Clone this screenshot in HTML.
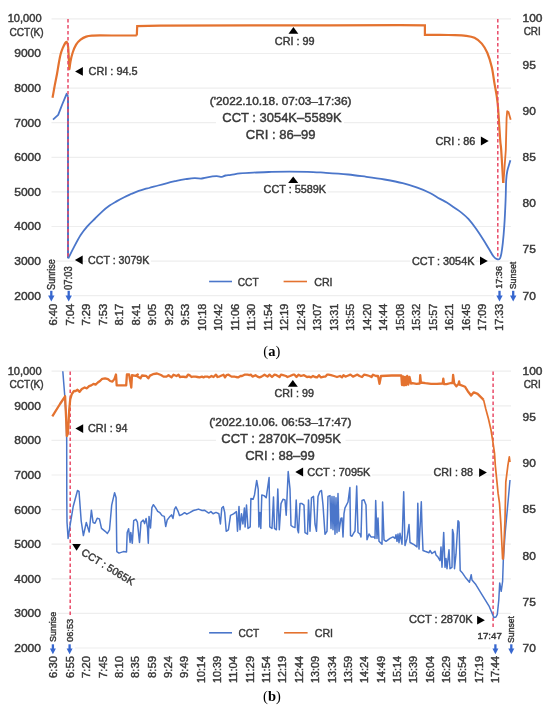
<!DOCTYPE html><html><head><meta charset="utf-8"><style>html,body{margin:0;padding:0;background:#fff;}svg{display:block;}</style></head><body>
<svg width="550" height="712" viewBox="0 0 550 712">
<style>text{stroke:#383838;stroke-width:0.42px;}</style>
<rect width="550" height="712" fill="#fff"/>
<line x1="51.5" x2="511" y1="18.9" y2="18.9" stroke="#EEEEEE" stroke-width="1.2"/>
<line x1="51.5" x2="511" y1="53.5" y2="53.5" stroke="#EEEEEE" stroke-width="1.2"/>
<line x1="51.5" x2="511" y1="88.1" y2="88.1" stroke="#EEEEEE" stroke-width="1.2"/>
<line x1="51.5" x2="511" y1="122.7" y2="122.7" stroke="#EEEEEE" stroke-width="1.2"/>
<line x1="51.5" x2="511" y1="157.3" y2="157.3" stroke="#EEEEEE" stroke-width="1.2"/>
<line x1="51.5" x2="511" y1="191.9" y2="191.9" stroke="#EEEEEE" stroke-width="1.2"/>
<line x1="51.5" x2="511" y1="226.5" y2="226.5" stroke="#EEEEEE" stroke-width="1.2"/>
<line x1="51.5" x2="511" y1="261.1" y2="261.1" stroke="#EEEEEE" stroke-width="1.2"/>
<line x1="51.5" x2="511" y1="295.7" y2="295.7" stroke="#EEEEEE" stroke-width="1.2"/>
<text x="41.6" y="22.3" font-size="10.2" text-anchor="end" fill="#383838" font-weight="normal" font-family='"Liberation Sans", Arial, sans-serif' textLength="33.9" lengthAdjust="spacingAndGlyphs">10,000</text>
<text x="41" y="57.4" font-size="11" text-anchor="end" fill="#383838" font-weight="normal" font-family='"Liberation Sans", Arial, sans-serif' textLength="26.8" lengthAdjust="spacingAndGlyphs">9000</text>
<text x="41" y="92" font-size="11" text-anchor="end" fill="#383838" font-weight="normal" font-family='"Liberation Sans", Arial, sans-serif' textLength="26.8" lengthAdjust="spacingAndGlyphs">8000</text>
<text x="41" y="126.6" font-size="11" text-anchor="end" fill="#383838" font-weight="normal" font-family='"Liberation Sans", Arial, sans-serif' textLength="26.8" lengthAdjust="spacingAndGlyphs">7000</text>
<text x="41" y="161.2" font-size="11" text-anchor="end" fill="#383838" font-weight="normal" font-family='"Liberation Sans", Arial, sans-serif' textLength="26.8" lengthAdjust="spacingAndGlyphs">6000</text>
<text x="41" y="195.8" font-size="11" text-anchor="end" fill="#383838" font-weight="normal" font-family='"Liberation Sans", Arial, sans-serif' textLength="26.8" lengthAdjust="spacingAndGlyphs">5000</text>
<text x="41" y="230.4" font-size="11" text-anchor="end" fill="#383838" font-weight="normal" font-family='"Liberation Sans", Arial, sans-serif' textLength="26.8" lengthAdjust="spacingAndGlyphs">4000</text>
<text x="41" y="265" font-size="11" text-anchor="end" fill="#383838" font-weight="normal" font-family='"Liberation Sans", Arial, sans-serif' textLength="26.8" lengthAdjust="spacingAndGlyphs">3000</text>
<text x="41" y="299.6" font-size="11" text-anchor="end" fill="#383838" font-weight="normal" font-family='"Liberation Sans", Arial, sans-serif' textLength="26.8" lengthAdjust="spacingAndGlyphs">2000</text>
<text x="43.7" y="35.7" font-size="11" text-anchor="end" fill="#383838" font-weight="normal" font-family='"Liberation Sans", Arial, sans-serif' textLength="34.3" lengthAdjust="spacingAndGlyphs">CCT(K)</text>
<text x="522.5" y="22.3" font-size="10.2" text-anchor="start" fill="#383838" font-weight="normal" font-family='"Liberation Sans", Arial, sans-serif' textLength="19.9" lengthAdjust="spacingAndGlyphs">100</text>
<text x="522.5" y="68.8" font-size="10.6" text-anchor="start" fill="#383838" font-weight="normal" font-family='"Liberation Sans", Arial, sans-serif' textLength="13.3" lengthAdjust="spacingAndGlyphs">95</text>
<text x="522.5" y="115" font-size="10.6" text-anchor="start" fill="#383838" font-weight="normal" font-family='"Liberation Sans", Arial, sans-serif' textLength="13.3" lengthAdjust="spacingAndGlyphs">90</text>
<text x="522.5" y="161.1" font-size="10.6" text-anchor="start" fill="#383838" font-weight="normal" font-family='"Liberation Sans", Arial, sans-serif' textLength="13.3" lengthAdjust="spacingAndGlyphs">85</text>
<text x="522.5" y="207.2" font-size="10.6" text-anchor="start" fill="#383838" font-weight="normal" font-family='"Liberation Sans", Arial, sans-serif' textLength="13.3" lengthAdjust="spacingAndGlyphs">80</text>
<text x="522.5" y="253.3" font-size="10.6" text-anchor="start" fill="#383838" font-weight="normal" font-family='"Liberation Sans", Arial, sans-serif' textLength="13.3" lengthAdjust="spacingAndGlyphs">75</text>
<text x="522.5" y="299.5" font-size="10.6" text-anchor="start" fill="#383838" font-weight="normal" font-family='"Liberation Sans", Arial, sans-serif' textLength="13.3" lengthAdjust="spacingAndGlyphs">70</text>
<text x="523.7" y="35.4" font-size="10.4" text-anchor="start" fill="#383838" font-weight="normal" font-family='"Liberation Sans", Arial, sans-serif' textLength="17.1" lengthAdjust="spacingAndGlyphs">CRI</text>
<text transform="translate(53.4,303.7) rotate(-90)" x="0" y="3.9" font-size="11" text-anchor="end" fill="#383838" font-family='"Liberation Sans", Arial, sans-serif' textLength="21.9" lengthAdjust="spacingAndGlyphs">6:40</text>
<text transform="translate(69.9,303.7) rotate(-90)" x="0" y="3.9" font-size="11" text-anchor="end" fill="#383838" font-family='"Liberation Sans", Arial, sans-serif' textLength="21.9" lengthAdjust="spacingAndGlyphs">7:04</text>
<text transform="translate(86.4,303.7) rotate(-90)" x="0" y="3.9" font-size="11" text-anchor="end" fill="#383838" font-family='"Liberation Sans", Arial, sans-serif' textLength="21.9" lengthAdjust="spacingAndGlyphs">7:29</text>
<text transform="translate(102.9,303.7) rotate(-90)" x="0" y="3.9" font-size="11" text-anchor="end" fill="#383838" font-family='"Liberation Sans", Arial, sans-serif' textLength="21.9" lengthAdjust="spacingAndGlyphs">7:53</text>
<text transform="translate(119.4,303.7) rotate(-90)" x="0" y="3.9" font-size="11" text-anchor="end" fill="#383838" font-family='"Liberation Sans", Arial, sans-serif' textLength="21.9" lengthAdjust="spacingAndGlyphs">8:17</text>
<text transform="translate(135.8,303.7) rotate(-90)" x="0" y="3.9" font-size="11" text-anchor="end" fill="#383838" font-family='"Liberation Sans", Arial, sans-serif' textLength="21.9" lengthAdjust="spacingAndGlyphs">8:41</text>
<text transform="translate(152.3,303.7) rotate(-90)" x="0" y="3.9" font-size="11" text-anchor="end" fill="#383838" font-family='"Liberation Sans", Arial, sans-serif' textLength="21.9" lengthAdjust="spacingAndGlyphs">9:05</text>
<text transform="translate(168.8,303.7) rotate(-90)" x="0" y="3.9" font-size="11" text-anchor="end" fill="#383838" font-family='"Liberation Sans", Arial, sans-serif' textLength="21.9" lengthAdjust="spacingAndGlyphs">9:29</text>
<text transform="translate(185.3,303.7) rotate(-90)" x="0" y="3.9" font-size="11" text-anchor="end" fill="#383838" font-family='"Liberation Sans", Arial, sans-serif' textLength="21.9" lengthAdjust="spacingAndGlyphs">9:53</text>
<text transform="translate(201.8,303.7) rotate(-90)" x="0" y="3.9" font-size="11" text-anchor="end" fill="#383838" font-family='"Liberation Sans", Arial, sans-serif' textLength="27.1" lengthAdjust="spacingAndGlyphs">10:18</text>
<text transform="translate(218.3,303.7) rotate(-90)" x="0" y="3.9" font-size="11" text-anchor="end" fill="#383838" font-family='"Liberation Sans", Arial, sans-serif' textLength="27.1" lengthAdjust="spacingAndGlyphs">10:42</text>
<text transform="translate(234.8,303.7) rotate(-90)" x="0" y="3.9" font-size="11" text-anchor="end" fill="#383838" font-family='"Liberation Sans", Arial, sans-serif' textLength="27.1" lengthAdjust="spacingAndGlyphs">11:06</text>
<text transform="translate(251.3,303.7) rotate(-90)" x="0" y="3.9" font-size="11" text-anchor="end" fill="#383838" font-family='"Liberation Sans", Arial, sans-serif' textLength="27.1" lengthAdjust="spacingAndGlyphs">11:30</text>
<text transform="translate(267.8,303.7) rotate(-90)" x="0" y="3.9" font-size="11" text-anchor="end" fill="#383838" font-family='"Liberation Sans", Arial, sans-serif' textLength="27.1" lengthAdjust="spacingAndGlyphs">11:54</text>
<text transform="translate(284.3,303.7) rotate(-90)" x="0" y="3.9" font-size="11" text-anchor="end" fill="#383838" font-family='"Liberation Sans", Arial, sans-serif' textLength="27.1" lengthAdjust="spacingAndGlyphs">12:19</text>
<text transform="translate(300.7,303.7) rotate(-90)" x="0" y="3.9" font-size="11" text-anchor="end" fill="#383838" font-family='"Liberation Sans", Arial, sans-serif' textLength="27.1" lengthAdjust="spacingAndGlyphs">12:43</text>
<text transform="translate(317.2,303.7) rotate(-90)" x="0" y="3.9" font-size="11" text-anchor="end" fill="#383838" font-family='"Liberation Sans", Arial, sans-serif' textLength="27.1" lengthAdjust="spacingAndGlyphs">13:07</text>
<text transform="translate(333.7,303.7) rotate(-90)" x="0" y="3.9" font-size="11" text-anchor="end" fill="#383838" font-family='"Liberation Sans", Arial, sans-serif' textLength="27.1" lengthAdjust="spacingAndGlyphs">13:31</text>
<text transform="translate(350.2,303.7) rotate(-90)" x="0" y="3.9" font-size="11" text-anchor="end" fill="#383838" font-family='"Liberation Sans", Arial, sans-serif' textLength="27.1" lengthAdjust="spacingAndGlyphs">13:55</text>
<text transform="translate(366.7,303.7) rotate(-90)" x="0" y="3.9" font-size="11" text-anchor="end" fill="#383838" font-family='"Liberation Sans", Arial, sans-serif' textLength="27.1" lengthAdjust="spacingAndGlyphs">14:20</text>
<text transform="translate(383.2,303.7) rotate(-90)" x="0" y="3.9" font-size="11" text-anchor="end" fill="#383838" font-family='"Liberation Sans", Arial, sans-serif' textLength="27.1" lengthAdjust="spacingAndGlyphs">14:44</text>
<text transform="translate(399.7,303.7) rotate(-90)" x="0" y="3.9" font-size="11" text-anchor="end" fill="#383838" font-family='"Liberation Sans", Arial, sans-serif' textLength="27.1" lengthAdjust="spacingAndGlyphs">15:08</text>
<text transform="translate(416.2,303.7) rotate(-90)" x="0" y="3.9" font-size="11" text-anchor="end" fill="#383838" font-family='"Liberation Sans", Arial, sans-serif' textLength="27.1" lengthAdjust="spacingAndGlyphs">15:32</text>
<text transform="translate(432.7,303.7) rotate(-90)" x="0" y="3.9" font-size="11" text-anchor="end" fill="#383838" font-family='"Liberation Sans", Arial, sans-serif' textLength="27.1" lengthAdjust="spacingAndGlyphs">15:57</text>
<text transform="translate(449.2,303.7) rotate(-90)" x="0" y="3.9" font-size="11" text-anchor="end" fill="#383838" font-family='"Liberation Sans", Arial, sans-serif' textLength="27.1" lengthAdjust="spacingAndGlyphs">16:21</text>
<text transform="translate(465.6,303.7) rotate(-90)" x="0" y="3.9" font-size="11" text-anchor="end" fill="#383838" font-family='"Liberation Sans", Arial, sans-serif' textLength="27.1" lengthAdjust="spacingAndGlyphs">16:45</text>
<text transform="translate(482.1,303.7) rotate(-90)" x="0" y="3.9" font-size="11" text-anchor="end" fill="#383838" font-family='"Liberation Sans", Arial, sans-serif' textLength="27.1" lengthAdjust="spacingAndGlyphs">17:09</text>
<text transform="translate(498.6,303.7) rotate(-90)" x="0" y="3.9" font-size="11" text-anchor="end" fill="#383838" font-family='"Liberation Sans", Arial, sans-serif' textLength="27.1" lengthAdjust="spacingAndGlyphs">17:33</text>
<path d="M52.5,97.8 C52.9,95.8 54,89.6 54.7,85.6 C55.5,81.6 56.3,77.7 57,74 C57.7,70.3 58.2,66.5 58.8,63.2 C59.4,59.9 59.9,56.8 60.6,54.2 C61.3,51.7 62,49.8 62.8,47.9 C63.6,46 64.6,44 65.3,43 C66,42 66.4,41.6 66.9,42.2 C67.4,42.8 67.8,44.2 68.1,46.5 C68.4,48.8 68.5,52.5 68.7,56 C68.9,59.5 69.1,65.4 69.2,67.5 C69.3,69.6 69.3,69.5 69.5,68.5 C69.7,67.5 70,64.2 70.5,61.5 C71,58.8 71.8,55.3 72.7,52.5 C73.6,49.7 74.8,46.8 76.1,44.6 C77.4,42.5 78.9,40.9 80.6,39.6 C82.3,38.3 84.1,37.3 86.2,36.6 C88.3,35.9 90.7,35.8 93,35.6 C95.3,35.4 95.8,35.4 100,35.4 C104.2,35.4 111.9,35.5 118,35.5 C124.1,35.5 133.7,35.5 136.8,35.5" fill="none" stroke="#E4722F" stroke-width="2.2" stroke-linejoin="round"/>
<path d="M136.8,35.5 L137.2,26.1 L160,25.6 L250,25.4 L330,25.3 L400,25.1 L424.9,25.3 L424.9,34.9 L440,34.9" fill="none" stroke="#E4722F" stroke-width="2.2"/>
<path d="M440,34.9 C442.5,34.9 450.7,35 455,35.1 C459.3,35.2 462.8,35.3 466,35.8 C469.2,36.2 471.9,36.5 474.5,37.8 C477.1,39.1 479.7,41.1 481.8,43.6 C483.9,46.1 485.6,48.8 487.3,52.7 C489,56.7 490.6,62.1 491.8,67.3 C493,72.4 493.5,77.6 494.5,83.6 C495.5,89.5 496.7,93.6 497.6,103 C498.6,112.4 499.6,132.2 500.2,140 C500.8,147.8 500.7,142.8 501.2,150 C501.7,157.2 502.9,177.5 503.2,183" fill="none" stroke="#E4722F" stroke-width="2.2" stroke-linejoin="round"/>
<path d="M503.4,183 L505.8,150 L506.6,118 L507.2,111.2 L508.5,112 L510.7,119.7" fill="none" stroke="#E4722F" stroke-width="1.8" stroke-linejoin="round"/>
<path d="M53,119.6 L58.2,114.9 L62,105 L66.6,93.8 L68,96.5" fill="none" stroke="#4B76CA" stroke-width="1.8" stroke-linejoin="round"/>
<path d="M68,96.5 L68,258.2" fill="none" stroke="#4B76CA" stroke-width="2"/>
<path d="M68.2,258.3 C68.3,258.1 68.1,258.8 68.9,257.1 C69.8,255.5 71.4,252 73.3,248.4 C75.2,244.8 78.1,239.1 80.5,235.3 C82.9,231.5 85.4,228.6 87.8,225.8 C90.2,223 92.7,220.9 95.1,218.5 C97.5,216.1 100,213.5 102.4,211.3 C104.8,209.1 107.2,207.2 109.6,205.5 C112,203.8 114.5,202.5 116.9,201.1 C119.3,199.7 121.8,198.4 124.2,197.2 C126.6,196 129.1,194.9 131.5,193.8 C133.9,192.8 136.3,191.8 138.7,190.9 C141.1,190 144.3,189.1 146,188.6 C147.7,188.1 147.1,188.5 149.1,188 C151.1,187.5 155.2,186.3 158.2,185.5 C161.2,184.7 164.3,183.9 167.3,183.1 C170.3,182.3 173.4,181.6 176.4,180.9 C179.4,180.2 182.5,179.6 185.5,179.2 C188.5,178.8 191.8,178.3 194.5,178.2 C197.2,178.1 199.7,178.7 201.8,178.5 C203.9,178.3 204.9,177.7 207.3,177.3 C209.7,176.9 214,176.3 216.4,176.2 C218.8,176.1 220.3,176.9 221.8,176.8 C223.3,176.7 224,175.8 225.5,175.5 C227,175.2 228.5,175.2 230.9,174.9 C233.3,174.6 236.3,173.8 240,173.4 C243.7,173 248,172.8 253.2,172.6 C258.4,172.3 265.3,172.1 271.4,171.9 C277.4,171.7 283.4,171.6 289.5,171.6 C295.6,171.6 301.6,171.6 307.7,171.8 C313.8,172 319.1,172.4 325.9,172.8 C332.6,173.2 341.4,173.8 348.2,174.5 C354.9,175.2 360.3,176 366.4,176.8 C372.4,177.6 378.4,178.4 384.5,179.5 C390.6,180.6 397.2,181.8 402.7,183.2 C408.2,184.6 412.8,186.1 417.3,187.7 C421.9,189.3 426.3,191.2 430,193 C433.7,194.8 436.7,197 439.5,198.6 C442.3,200.2 444.4,201 446.8,202.5 C449.2,204 451.7,205.8 454.1,207.5 C456.5,209.2 459,210.7 461.4,212.6 C463.8,214.5 466.2,216.5 468.6,219.2 C471,221.9 473.5,225.2 475.9,228.6 C478.3,232 481,236.1 483.2,239.5 C485.4,242.9 487.3,246.2 489,249 C490.7,251.8 492.1,254.6 493.4,256.3 C494.7,258 495.9,258.8 497,259.2 C498.1,259.6 499.2,259.5 499.9,258.5 C500.6,257.5 500.9,256 501.4,253.4 C501.9,250.8 502.3,247.8 502.8,243.2 C503.3,238.6 503.8,232.9 504.3,225.7 C504.8,218.5 505.3,207.6 505.6,200 C505.9,192.4 505.9,184.8 506.2,180 C506.5,175.2 506.6,174.3 507.3,171 C508,167.7 509.9,162 510.4,160.2" fill="none" stroke="#4B76CA" stroke-width="1.8" stroke-linejoin="round"/>
<line x1="68" x2="68" y1="19" y2="258" stroke="#E94B68" stroke-width="1.5" stroke-dasharray="3.4,2.6"/>
<line x1="497.8" x2="497.8" y1="19" y2="259" stroke="#E94B68" stroke-width="1.5" stroke-dasharray="3.4,2.6"/>
<polygon points="75.1,71.4 82.9,67 82.9,75.8" fill="#000"/>
<text x="88.6" y="74.9" font-size="10.5" text-anchor="start" fill="#383838" font-weight="normal" font-family='"Liberation Sans", Arial, sans-serif' textLength="49" lengthAdjust="spacingAndGlyphs">CRI : 94.5</text>
<polygon points="293.4,27.1 288.5,33.8 298.3,33.8" fill="#000"/>
<text x="294.7" y="44.6" font-size="10.2" text-anchor="middle" fill="#383838" font-weight="normal" font-family='"Liberation Sans", Arial, sans-serif' textLength="39.7" lengthAdjust="spacingAndGlyphs">CRI : 99</text>
<polygon points="488.7,141 480.9,136.6 480.9,145.4" fill="#000"/>
<text x="435.5" y="144.8" font-size="10.5" text-anchor="start" fill="#383838" font-weight="normal" font-family='"Liberation Sans", Arial, sans-serif' textLength="39.9" lengthAdjust="spacingAndGlyphs">CRI : 86</text>
<polygon points="293.2,176.5 288.2,183.1 298.2,183.1" fill="#000"/>
<rect x="262.1" y="184.2" width="65.4" height="11" fill="#fff"/>
<text x="294.8" y="193.4" font-size="10.2" text-anchor="middle" fill="#383838" font-weight="normal" font-family='"Liberation Sans", Arial, sans-serif' textLength="62.4" lengthAdjust="spacingAndGlyphs">CCT : 5589K</text>
<polygon points="74.9,260 82.7,255.6 82.7,264.4" fill="#000"/>
<rect x="86.5" y="254.5" width="64.4" height="11" fill="#fff"/>
<text x="88" y="263.8" font-size="10.5" text-anchor="start" fill="#383838" font-weight="normal" font-family='"Liberation Sans", Arial, sans-serif' textLength="61.4" lengthAdjust="spacingAndGlyphs">CCT : 3079K</text>
<rect x="410.5" y="255.4" width="65.4" height="11" fill="#fff"/>
<text x="412" y="264.7" font-size="10.5" text-anchor="start" fill="#383838" font-weight="normal" font-family='"Liberation Sans", Arial, sans-serif' textLength="62.4" lengthAdjust="spacingAndGlyphs">CCT : 3054K</text>
<polygon points="487.8,260.9 480,256.5 480,265.3" fill="#000"/>
<rect x="216" y="91" width="128" height="50" fill="#fff"/>
<text x="280.6" y="104.5" font-size="10.4" text-anchor="middle" fill="#383838" font-weight="normal" font-family='"Liberation Sans", Arial, sans-serif' textLength="141.6" lengthAdjust="spacingAndGlyphs">('2022.10.18. 07:03–17:36)</text>
<text x="282" y="122" font-size="12.8" text-anchor="middle" fill="#383838" font-weight="normal" font-family='"Liberation Sans", Arial, sans-serif' textLength="119.4" lengthAdjust="spacingAndGlyphs">CCT : 3054K–5589K</text>
<text x="280.6" y="139.2" font-size="12.8" text-anchor="middle" fill="#383838" font-weight="normal" font-family='"Liberation Sans", Arial, sans-serif' textLength="69.6" lengthAdjust="spacingAndGlyphs">CRI : 86–99</text>
<line x1="209.1" x2="232" y1="281.5" y2="281.5" stroke="#4B76CA" stroke-width="1.6"/>
<text x="237.8" y="285.9" font-size="11" text-anchor="start" fill="#383838" font-weight="normal" font-family='"Liberation Sans", Arial, sans-serif' textLength="20.8" lengthAdjust="spacingAndGlyphs">CCT</text>
<line x1="283.6" x2="307" y1="281.5" y2="281.5" stroke="#E4722F" stroke-width="1.6"/>
<text x="314.2" y="285.9" font-size="11" text-anchor="start" fill="#383838" font-weight="normal" font-family='"Liberation Sans", Arial, sans-serif' textLength="18.4" lengthAdjust="spacingAndGlyphs">CRI</text>
<rect x="46.5" y="259" width="9.3" height="43" fill="#fff"/>
<rect x="64.2" y="266" width="9" height="36" fill="#fff"/>
<rect x="55.8" y="287" width="8.4" height="15" fill="#fff"/>
<rect x="494.2" y="265" width="9" height="37" fill="#fff"/>
<rect x="508.6" y="261" width="9.4" height="41" fill="#fff"/>
<rect x="503.2" y="287" width="5.4" height="15" fill="#fff"/>
<text transform="translate(51.1,259.2) rotate(-90)" x="0" y="3.7" font-size="10.2" text-anchor="end" fill="#383838" font-family='"Liberation Sans", Arial, sans-serif' textLength="30.7" lengthAdjust="spacingAndGlyphs">Sunrise</text>
<text transform="translate(68.7,266.3) rotate(-90)" x="0" y="3.7" font-size="10.2" text-anchor="end" fill="#383838" font-family='"Liberation Sans", Arial, sans-serif' textLength="23.7" lengthAdjust="spacingAndGlyphs">07:03</text>
<text transform="translate(498.3,266.1) rotate(-90)" x="0" y="3.3" font-size="9.3" text-anchor="end" fill="#383838" font-family='"Liberation Sans", Arial, sans-serif' textLength="22.6" lengthAdjust="spacingAndGlyphs">17:36</text>
<text transform="translate(513.1,261.7) rotate(-90)" x="0" y="3.3" font-size="9.3" text-anchor="end" fill="#383838" font-family='"Liberation Sans", Arial, sans-serif' textLength="27.6" lengthAdjust="spacingAndGlyphs">Sunset</text>
<path d="M51.3,290.8 L51.3,296" stroke="#3767CF" stroke-width="2.3"/>
<polygon points="48.1,295.5 54.5,295.5 51.3,301.5" fill="#3767CF"/>
<path d="M68.7,290.8 L68.7,296" stroke="#3767CF" stroke-width="2.3"/>
<polygon points="65.5,295.5 71.9,295.5 68.7,301.5" fill="#3767CF"/>
<path d="M499.5,290.8 L499.5,296" stroke="#3767CF" stroke-width="2.3"/>
<polygon points="496.3,295.5 502.7,295.5 499.5,301.5" fill="#3767CF"/>
<path d="M513.2,290.8 L513.2,296" stroke="#3767CF" stroke-width="2.3"/>
<polygon points="510,295.5 516.4,295.5 513.2,301.5" fill="#3767CF"/>
<text x="271.8" y="356" font-size="14.5" text-anchor="middle" fill="#000" style="stroke:none" font-family='"Liberation Serif", "Times New Roman", serif'>(<tspan font-weight="bold">a</tspan>)</text>
<line x1="51.5" x2="511" y1="371.2" y2="371.2" stroke="#EEEEEE" stroke-width="1.2"/>
<line x1="51.5" x2="511" y1="405.8" y2="405.8" stroke="#EEEEEE" stroke-width="1.2"/>
<line x1="51.5" x2="511" y1="440.4" y2="440.4" stroke="#EEEEEE" stroke-width="1.2"/>
<line x1="51.5" x2="511" y1="475" y2="475" stroke="#EEEEEE" stroke-width="1.2"/>
<line x1="51.5" x2="511" y1="509.6" y2="509.6" stroke="#EEEEEE" stroke-width="1.2"/>
<line x1="51.5" x2="511" y1="544.2" y2="544.2" stroke="#EEEEEE" stroke-width="1.2"/>
<line x1="51.5" x2="511" y1="578.8" y2="578.8" stroke="#EEEEEE" stroke-width="1.2"/>
<line x1="51.5" x2="511" y1="613.4" y2="613.4" stroke="#EEEEEE" stroke-width="1.2"/>
<line x1="51.5" x2="511" y1="648" y2="648" stroke="#EEEEEE" stroke-width="1.2"/>
<text x="41.6" y="374.6" font-size="10.2" text-anchor="end" fill="#383838" font-weight="normal" font-family='"Liberation Sans", Arial, sans-serif' textLength="33.9" lengthAdjust="spacingAndGlyphs">10,000</text>
<text x="41" y="409.7" font-size="11" text-anchor="end" fill="#383838" font-weight="normal" font-family='"Liberation Sans", Arial, sans-serif' textLength="26.8" lengthAdjust="spacingAndGlyphs">9000</text>
<text x="41" y="444.3" font-size="11" text-anchor="end" fill="#383838" font-weight="normal" font-family='"Liberation Sans", Arial, sans-serif' textLength="26.8" lengthAdjust="spacingAndGlyphs">8000</text>
<text x="41" y="478.9" font-size="11" text-anchor="end" fill="#383838" font-weight="normal" font-family='"Liberation Sans", Arial, sans-serif' textLength="26.8" lengthAdjust="spacingAndGlyphs">7000</text>
<text x="41" y="513.5" font-size="11" text-anchor="end" fill="#383838" font-weight="normal" font-family='"Liberation Sans", Arial, sans-serif' textLength="26.8" lengthAdjust="spacingAndGlyphs">6000</text>
<text x="41" y="548.1" font-size="11" text-anchor="end" fill="#383838" font-weight="normal" font-family='"Liberation Sans", Arial, sans-serif' textLength="26.8" lengthAdjust="spacingAndGlyphs">5000</text>
<text x="41" y="582.7" font-size="11" text-anchor="end" fill="#383838" font-weight="normal" font-family='"Liberation Sans", Arial, sans-serif' textLength="26.8" lengthAdjust="spacingAndGlyphs">4000</text>
<text x="41" y="617.3" font-size="11" text-anchor="end" fill="#383838" font-weight="normal" font-family='"Liberation Sans", Arial, sans-serif' textLength="26.8" lengthAdjust="spacingAndGlyphs">3000</text>
<text x="41" y="651.9" font-size="11" text-anchor="end" fill="#383838" font-weight="normal" font-family='"Liberation Sans", Arial, sans-serif' textLength="26.8" lengthAdjust="spacingAndGlyphs">2000</text>
<text x="43.7" y="388" font-size="11" text-anchor="end" fill="#383838" font-weight="normal" font-family='"Liberation Sans", Arial, sans-serif' textLength="34.3" lengthAdjust="spacingAndGlyphs">CCT(K)</text>
<text x="522.5" y="374.6" font-size="10.2" text-anchor="start" fill="#383838" font-weight="normal" font-family='"Liberation Sans", Arial, sans-serif' textLength="19.9" lengthAdjust="spacingAndGlyphs">100</text>
<text x="522.5" y="421.1" font-size="10.6" text-anchor="start" fill="#383838" font-weight="normal" font-family='"Liberation Sans", Arial, sans-serif' textLength="13.3" lengthAdjust="spacingAndGlyphs">95</text>
<text x="522.5" y="467.3" font-size="10.6" text-anchor="start" fill="#383838" font-weight="normal" font-family='"Liberation Sans", Arial, sans-serif' textLength="13.3" lengthAdjust="spacingAndGlyphs">90</text>
<text x="522.5" y="513.4" font-size="10.6" text-anchor="start" fill="#383838" font-weight="normal" font-family='"Liberation Sans", Arial, sans-serif' textLength="13.3" lengthAdjust="spacingAndGlyphs">85</text>
<text x="522.5" y="559.5" font-size="10.6" text-anchor="start" fill="#383838" font-weight="normal" font-family='"Liberation Sans", Arial, sans-serif' textLength="13.3" lengthAdjust="spacingAndGlyphs">80</text>
<text x="522.5" y="605.6" font-size="10.6" text-anchor="start" fill="#383838" font-weight="normal" font-family='"Liberation Sans", Arial, sans-serif' textLength="13.3" lengthAdjust="spacingAndGlyphs">75</text>
<text x="522.5" y="651.8" font-size="10.6" text-anchor="start" fill="#383838" font-weight="normal" font-family='"Liberation Sans", Arial, sans-serif' textLength="13.3" lengthAdjust="spacingAndGlyphs">70</text>
<text x="523.7" y="387.7" font-size="10.4" text-anchor="start" fill="#383838" font-weight="normal" font-family='"Liberation Sans", Arial, sans-serif' textLength="17.1" lengthAdjust="spacingAndGlyphs">CRI</text>
<text transform="translate(53.5,656) rotate(-90)" x="0" y="3.9" font-size="11" text-anchor="end" fill="#383838" font-family='"Liberation Sans", Arial, sans-serif' textLength="21.9" lengthAdjust="spacingAndGlyphs">6:30</text>
<text transform="translate(69.9,656) rotate(-90)" x="0" y="3.9" font-size="11" text-anchor="end" fill="#383838" font-family='"Liberation Sans", Arial, sans-serif' textLength="21.9" lengthAdjust="spacingAndGlyphs">6:55</text>
<text transform="translate(86.2,656) rotate(-90)" x="0" y="3.9" font-size="11" text-anchor="end" fill="#383838" font-family='"Liberation Sans", Arial, sans-serif' textLength="21.9" lengthAdjust="spacingAndGlyphs">7:20</text>
<text transform="translate(102.6,656) rotate(-90)" x="0" y="3.9" font-size="11" text-anchor="end" fill="#383838" font-family='"Liberation Sans", Arial, sans-serif' textLength="21.9" lengthAdjust="spacingAndGlyphs">7:45</text>
<text transform="translate(118.9,656) rotate(-90)" x="0" y="3.9" font-size="11" text-anchor="end" fill="#383838" font-family='"Liberation Sans", Arial, sans-serif' textLength="21.9" lengthAdjust="spacingAndGlyphs">8:10</text>
<text transform="translate(135.3,656) rotate(-90)" x="0" y="3.9" font-size="11" text-anchor="end" fill="#383838" font-family='"Liberation Sans", Arial, sans-serif' textLength="21.9" lengthAdjust="spacingAndGlyphs">8:35</text>
<text transform="translate(151.7,656) rotate(-90)" x="0" y="3.9" font-size="11" text-anchor="end" fill="#383838" font-family='"Liberation Sans", Arial, sans-serif' textLength="21.9" lengthAdjust="spacingAndGlyphs">8:59</text>
<text transform="translate(168,656) rotate(-90)" x="0" y="3.9" font-size="11" text-anchor="end" fill="#383838" font-family='"Liberation Sans", Arial, sans-serif' textLength="21.9" lengthAdjust="spacingAndGlyphs">9:24</text>
<text transform="translate(184.4,656) rotate(-90)" x="0" y="3.9" font-size="11" text-anchor="end" fill="#383838" font-family='"Liberation Sans", Arial, sans-serif' textLength="21.9" lengthAdjust="spacingAndGlyphs">9:49</text>
<text transform="translate(200.7,656) rotate(-90)" x="0" y="3.9" font-size="11" text-anchor="end" fill="#383838" font-family='"Liberation Sans", Arial, sans-serif' textLength="27.1" lengthAdjust="spacingAndGlyphs">10:14</text>
<text transform="translate(217.1,656) rotate(-90)" x="0" y="3.9" font-size="11" text-anchor="end" fill="#383838" font-family='"Liberation Sans", Arial, sans-serif' textLength="27.1" lengthAdjust="spacingAndGlyphs">10:39</text>
<text transform="translate(233.5,656) rotate(-90)" x="0" y="3.9" font-size="11" text-anchor="end" fill="#383838" font-family='"Liberation Sans", Arial, sans-serif' textLength="27.1" lengthAdjust="spacingAndGlyphs">11:04</text>
<text transform="translate(249.8,656) rotate(-90)" x="0" y="3.9" font-size="11" text-anchor="end" fill="#383838" font-family='"Liberation Sans", Arial, sans-serif' textLength="27.1" lengthAdjust="spacingAndGlyphs">11:29</text>
<text transform="translate(266.2,656) rotate(-90)" x="0" y="3.9" font-size="11" text-anchor="end" fill="#383838" font-family='"Liberation Sans", Arial, sans-serif' textLength="27.1" lengthAdjust="spacingAndGlyphs">11:54</text>
<text transform="translate(282.5,656) rotate(-90)" x="0" y="3.9" font-size="11" text-anchor="end" fill="#383838" font-family='"Liberation Sans", Arial, sans-serif' textLength="27.1" lengthAdjust="spacingAndGlyphs">12:19</text>
<text transform="translate(298.9,656) rotate(-90)" x="0" y="3.9" font-size="11" text-anchor="end" fill="#383838" font-family='"Liberation Sans", Arial, sans-serif' textLength="27.1" lengthAdjust="spacingAndGlyphs">12:44</text>
<text transform="translate(315.3,656) rotate(-90)" x="0" y="3.9" font-size="11" text-anchor="end" fill="#383838" font-family='"Liberation Sans", Arial, sans-serif' textLength="27.1" lengthAdjust="spacingAndGlyphs">13:09</text>
<text transform="translate(331.6,656) rotate(-90)" x="0" y="3.9" font-size="11" text-anchor="end" fill="#383838" font-family='"Liberation Sans", Arial, sans-serif' textLength="27.1" lengthAdjust="spacingAndGlyphs">13:34</text>
<text transform="translate(348,656) rotate(-90)" x="0" y="3.9" font-size="11" text-anchor="end" fill="#383838" font-family='"Liberation Sans", Arial, sans-serif' textLength="27.1" lengthAdjust="spacingAndGlyphs">13:59</text>
<text transform="translate(364.3,656) rotate(-90)" x="0" y="3.9" font-size="11" text-anchor="end" fill="#383838" font-family='"Liberation Sans", Arial, sans-serif' textLength="27.1" lengthAdjust="spacingAndGlyphs">14:24</text>
<text transform="translate(380.7,656) rotate(-90)" x="0" y="3.9" font-size="11" text-anchor="end" fill="#383838" font-family='"Liberation Sans", Arial, sans-serif' textLength="27.1" lengthAdjust="spacingAndGlyphs">14:49</text>
<text transform="translate(397.1,656) rotate(-90)" x="0" y="3.9" font-size="11" text-anchor="end" fill="#383838" font-family='"Liberation Sans", Arial, sans-serif' textLength="27.1" lengthAdjust="spacingAndGlyphs">15:14</text>
<text transform="translate(413.4,656) rotate(-90)" x="0" y="3.9" font-size="11" text-anchor="end" fill="#383838" font-family='"Liberation Sans", Arial, sans-serif' textLength="27.1" lengthAdjust="spacingAndGlyphs">15:39</text>
<text transform="translate(429.8,656) rotate(-90)" x="0" y="3.9" font-size="11" text-anchor="end" fill="#383838" font-family='"Liberation Sans", Arial, sans-serif' textLength="27.1" lengthAdjust="spacingAndGlyphs">16:04</text>
<text transform="translate(446.1,656) rotate(-90)" x="0" y="3.9" font-size="11" text-anchor="end" fill="#383838" font-family='"Liberation Sans", Arial, sans-serif' textLength="27.1" lengthAdjust="spacingAndGlyphs">16:29</text>
<text transform="translate(462.5,656) rotate(-90)" x="0" y="3.9" font-size="11" text-anchor="end" fill="#383838" font-family='"Liberation Sans", Arial, sans-serif' textLength="27.1" lengthAdjust="spacingAndGlyphs">16:54</text>
<text transform="translate(478.9,656) rotate(-90)" x="0" y="3.9" font-size="11" text-anchor="end" fill="#383838" font-family='"Liberation Sans", Arial, sans-serif' textLength="27.1" lengthAdjust="spacingAndGlyphs">17:19</text>
<text transform="translate(495.2,656) rotate(-90)" x="0" y="3.9" font-size="11" text-anchor="end" fill="#383838" font-family='"Liberation Sans", Arial, sans-serif' textLength="27.1" lengthAdjust="spacingAndGlyphs">17:44</text>
<line x1="70.2" x2="70.2" y1="371.5" y2="615" stroke="#E94B68" stroke-width="1.5" stroke-dasharray="3.4,2.6"/>
<line x1="493.1" x2="493.1" y1="371.5" y2="628" stroke="#E94B68" stroke-width="1.5" stroke-dasharray="3.4,2.6"/>
<path d="M62.8,371.2 L64.7,395 L66.2,418 L66.7,440 L66.8,500 L67,522 L68.1,538.5 L70.3,524 L73.2,506.5 L77.5,490.5 L79,491.3 L81.2,521 L83.4,535.6 L86.3,522.5 L89.2,532 L91.4,510.2 L93.1,522.5 L95,523.3 L97.2,518.2 L99.4,518.9 L101.5,528.4 L105.2,531.3 L107.4,533.5 L109.5,529.8 L111.7,505.1 L114.6,492.7 L116.1,497.8 L116.8,551.6 L119,553.1 L123.4,551.6 L126.5,552 L127.2,532.4 L128.6,528.7 L130.1,542.5 L130.8,532.4 L132.3,543.3 L133.7,520.7 L135.9,519.3 L137.4,522.2 L139.5,542.5 L141,522.2 L143.2,520 L144.6,523.6 L146.1,518.5 L147.5,528 L148.3,543.3 L149,516.4 L150.5,528 L151.9,507.6 L153.4,504.7 L155.5,507.6 L157.7,511.3 L159.9,512.7 L162.1,515.6 L164.3,516.4 L165.7,526.5 L167.2,520 L169.4,517.1 L171.5,514.9 L173,518.5 L174.5,509.1 L175.9,506.9 L178.1,511.3 L179.5,515.6 L182.5,514.2 L184.6,512.7 L186.8,514.2 L189.7,512.7 L193.4,510.5 L196.3,509.8 L198.5,509.1 L202.1,510.5 L204.4,510.2 L208.7,513.1 L210.9,511.6 L213.1,513.8 L216,512.4 L218.9,513.8 L220.4,524 L221.8,508 L223.3,506.5 L224.7,512.4 L226.2,531.3 L228.4,529.8 L230.5,515.3 L233.5,513.8 L236.4,511.6 L237.5,531.3 L239,506.5 L240,529.8 L241.5,513.8 L242.9,524 L244.4,508 L245.1,526.9 L246.5,505.1 L248,528.4 L250.2,526.9 L250.9,498.5 L253.1,499.3 L254.5,494.9 L256.7,480.4 L258.2,489.1 L258.9,526.9 L259.9,512.4 L260.8,528.4 L261.8,494.9 L264,495.6 L266.2,497.8 L269.1,477.5 L269.8,526.9 L272,528.4 L273.5,497.1 L274.5,528.4 L276.4,529.8 L277.8,489.1 L279.3,529.8 L281,503.6 L283,499.3 L285,500 L286.2,515.3 L288.2,471.6 L290,489 L291,525.5 L293,526.9 L295,527.6 L296.2,500 L297.6,529.8 L298.5,532.7 L300,503.6 L302,503.6 L304,505.1 L305,532.7 L307.5,534.2 L308.5,500 L310,531.3 L311.5,497.8 L313.5,496.4 L315,524 L316.5,531.3 L318,496.4 L320,491.3 L321.5,490.5 L323,505.1 L325,534.2 L327,531.3 L328,496.4 L330,495.6 L331,528.4 L332,496.4 L333,529.8 L334,496.4 L335,534.2 L336,497.8 L337,532.7 L338,493.5 L339,531.3 L341,518.2 L342,518 L343,536.9 L344,513.6 L345,507.8 L348,502 L349.9,487.5 L350.5,535.5 L352,536.2 L354,532.5 L355,531.1 L356.7,486 L358,532.5 L360,534 L361,536.9 L362,500.5 L364,499.8 L366,504.9 L367,539.8 L369,534 L371,536.9 L374,536.9 L375,538.4 L375.7,500.5 L377,538.4 L378,518 L379,541.3 L382,544.2 L382.6,502 L384,539.8 L386,541.3 L390,538.4 L393,536.9 L395,538.4 L396,534.7 L397,541.3 L398,534 L399,542.7 L400,533.3 L402,544.2 L403.7,491.8 L405,545.6 L407,538.4 L409,524.5 L410,542.5 L414,544.7 L417,546.9 L417.8,503.3 L419,549.1 L421.3,501.8 L422,526.5 L423,550.5 L425,551.3 L429,552.7 L430,550.5 L432,553.5 L435,551.3 L436,554.9 L438,557.1 L440,560.7 L441,546.9 L442,567.3 L443.7,532.4 L445,567.3 L446,558.5 L447,568.7 L449,549.8 L450,568.7 L452,567.3 L452.5,529.5 L453.5,533.8 L454.5,568.7 L456,554.2 L458,520.7 L459,522.2 L460.2,570.5 L462,572.4 L465.3,577.2 L469.5,582.2 L471.2,574.7 L472,580 L475.4,583.9 L482.1,594.9 L488.9,605.8 L492,613 L493.9,617.6 L496,617 L497.3,614.3 L498.8,600 L499.7,583 L501.2,591.3 L502.6,581.5 L503.3,560.4 L505,535 L508.2,500 L510,480" fill="none" stroke="#4B76CA" stroke-width="1.5" stroke-linejoin="round"/>
<path d="M52.3,416.3 L60,404 L65.1,396.3 L66.2,420 L66.8,436 L67.8,434 L68.5,424 L69.2,410 L70.2,399.5 L71.8,394 L74,391 L75.3,391.2 L77.5,389.7 L79.6,391.9 L81.8,389 L84.7,387.5 L86.9,388.3 L89.1,386.1 L91.3,385.4 L93.5,383.9 L95.6,384.6 L97.8,382.5 L100,381 L102.2,378.8 L105.1,378.4 L108,379.1 L110.2,381 L112.4,381.7 L114.5,378.8 L116,374.5 L116.7,385.4 L126.2,385.4 L126.9,374.5 L129.1,374.5 L131.3,387.5 L132,375.2 L135.6,375.9 L137.8,374.5 L136,375.5 L140.5,378.3 L142,375.5 L146,375.8 L148.3,378.3 L150,375.6 L153,374.2 L157,373.5 L161,375 L163.5,376.6 L166.5,376.6 L168.5,375.2 L171.5,377.4 L173.5,374.7 L176.5,376 L178.5,374.7 L180,377 L183,376.6 L185,377 L186.5,377 L188,374.7 L189.5,375.2 L191.5,377 L193,376.6 L195.5,376.6 L197.5,377 L199.5,377.4 L202,376.6 L203.5,377.4 L205,376.6 L207.5,376.6 L209,377.4 L211.5,376 L213.5,377 L216,374.7 L217.5,377 L219,376.6 L220.5,376 L223.5,374.7 L225,377.4 L226.5,375.2 L228.5,374.7 L231.5,376.6 L234.5,376.6 L236,377 L238,377.4 L240.5,376 L242,376 L244.5,374.7 L247.5,374.7 L249.5,375.2 L251,374.7 L252.5,376.6 L255.5,375.2 L257.5,376.6 L259.5,377.4 L261.5,376.6 L264.5,374.7 L267.5,376.6 L269.5,374.7 L272,377 L274.5,374.7 L276.5,375.2 L279.5,377 L281,374.7 L283,375.2 L286,376 L287.5,377 L290,376 L293,374.7 L294.5,374.7 L296.5,377 L298.5,374.7 L301,376 L304,375.2 L307,377 L309,376.6 L311,377.4 L313,376 L315,377 L317,377.4 L319,375.2 L321,377.4 L324,376.6 L325.5,376.6 L327,374.7 L328.5,374.7 L331,375.2 L334,376 L337,377 L340,376 L342,377.4 L343.5,375.2 L345.5,376.6 L347,376 L349,375.2 L350.5,374.7 L353,376.6 L356,375.2 L357.5,374.7 L359.5,376 L362,377 L364,374.7 L366.5,375.2 L369.5,376 L371.5,377 L373,374.7 L376,376 L378,376 L379.5,383.9 L381,376 L391.8,375.5 L401.3,375.5 L402,385 L403,376.5 L404,385.4 L405,377 L406,385 L407.2,376 L408.3,384.6 L409.5,377 L411,383.5 L412.5,383.2 L416.5,383.9 L419.8,383.5 L420.2,375.2 L420.9,382.5 L425.3,383.2 L431.1,383.9 L436.9,383.9 L442.7,383.5 L443.3,378.6 L444,384.1 L446.5,384.1 L450.9,383 L452.6,383 L453.1,374.8 L454.2,383.5 L456.4,386.3 L458.5,384 L459.1,381.4 L459.6,384.6 L465.1,386.8 L467.8,391.2 L471.1,395.5 L473.8,392.3 L477.6,393.9 L483.6,399.9" fill="none" stroke="#E4722F" stroke-width="2.3" stroke-linejoin="round"/>
<path d="M483.6,399.9 L485.8,409 L488.5,419 L491,430 L492.6,440 L494.5,453 L495.3,465.3 L498.1,493.4 L499.5,503.2 L500.9,524.3 L502.6,559 L503.3,559 L505,520 L505.8,482.1 L507.9,465.3 L509.3,456.9 L510,462" fill="none" stroke="#E4722F" stroke-width="1.7" stroke-linejoin="round"/>
<polygon points="75.4,428.6 83.2,424.2 83.2,433" fill="#000"/>
<text x="88.1" y="432.4" font-size="10.5" text-anchor="start" fill="#383838" font-weight="normal" font-family='"Liberation Sans", Arial, sans-serif' textLength="39.5" lengthAdjust="spacingAndGlyphs">CRI : 94</text>
<polygon points="292.8,380.1 287.8,386.8 297.8,386.8" fill="#000"/>
<text x="294.2" y="396.5" font-size="10.2" text-anchor="middle" fill="#383838" font-weight="normal" font-family='"Liberation Sans", Arial, sans-serif' textLength="39.3" lengthAdjust="spacingAndGlyphs">CRI : 99</text>
<polygon points="295.3,472 303.1,467.6 303.1,476.4" fill="#000"/>
<rect x="305.8" y="466.6" width="66.1" height="11" fill="#fff"/>
<text x="307.3" y="475.9" font-size="10.5" text-anchor="start" fill="#383838" font-weight="normal" font-family='"Liberation Sans", Arial, sans-serif' textLength="63.1" lengthAdjust="spacingAndGlyphs">CCT : 7095K</text>
<rect x="432" y="467" width="42.4" height="11" fill="#fff"/>
<text x="433.5" y="476.3" font-size="10.5" text-anchor="start" fill="#383838" font-weight="normal" font-family='"Liberation Sans", Arial, sans-serif' textLength="39.4" lengthAdjust="spacingAndGlyphs">CRI : 88</text>
<polygon points="486.9,472.6 479.1,468.2 479.1,477" fill="#000"/>
<polygon points="76.6,550.7 72.2,543.9 80.9,543.9" fill="#000"/>
<text transform="translate(82.5,551) rotate(31.5)" x="0" y="3.8" font-size="10.5" fill="#383838" font-family='"Liberation Sans", Arial, sans-serif' textLength="60" lengthAdjust="spacingAndGlyphs">CCT : 5065K</text>
<rect x="407.5" y="614.1" width="66.7" height="11" fill="#fff"/>
<text x="409" y="623.4" font-size="10.5" text-anchor="start" fill="#383838" font-weight="normal" font-family='"Liberation Sans", Arial, sans-serif' textLength="63.7" lengthAdjust="spacingAndGlyphs">CCT : 2870K</text>
<polygon points="484.9,620.2 477.1,615.8 477.1,624.6" fill="#000"/>
<text x="477.5" y="639.2" font-size="9.4" text-anchor="start" fill="#383838" font-weight="normal" font-family='"Liberation Sans", Arial, sans-serif' textLength="24.3" lengthAdjust="spacingAndGlyphs">17:47</text>
<rect x="216" y="412" width="129.5" height="50" fill="#fff"/>
<text x="280.3" y="425.7" font-size="10.4" text-anchor="middle" fill="#383838" font-weight="normal" font-family='"Liberation Sans", Arial, sans-serif' textLength="142.3" lengthAdjust="spacingAndGlyphs">('2022.10.06. 06:53–17:47)</text>
<text x="281.1" y="443.3" font-size="12.8" text-anchor="middle" fill="#383838" font-weight="normal" font-family='"Liberation Sans", Arial, sans-serif' textLength="119.7" lengthAdjust="spacingAndGlyphs">CCT : 2870K–7095K</text>
<text x="280" y="460.3" font-size="12.8" text-anchor="middle" fill="#383838" font-weight="normal" font-family='"Liberation Sans", Arial, sans-serif' textLength="69.6" lengthAdjust="spacingAndGlyphs">CRI : 88–99</text>
<line x1="209.1" x2="232" y1="632.8" y2="632.8" stroke="#4B76CA" stroke-width="1.6"/>
<text x="238.4" y="637.3" font-size="11" text-anchor="start" fill="#383838" font-weight="normal" font-family='"Liberation Sans", Arial, sans-serif' textLength="20.8" lengthAdjust="spacingAndGlyphs">CCT</text>
<line x1="284.1" x2="307.6" y1="632.8" y2="632.8" stroke="#E4722F" stroke-width="1.6"/>
<text x="314.7" y="637.3" font-size="11" text-anchor="start" fill="#383838" font-weight="normal" font-family='"Liberation Sans", Arial, sans-serif' textLength="18.4" lengthAdjust="spacingAndGlyphs">CRI</text>
<rect x="48.5" y="611.5" width="9.3" height="44.5" fill="#fff"/>
<rect x="65.8" y="618" width="9" height="38" fill="#fff"/>
<rect x="57.8" y="642" width="8" height="14" fill="#fff"/>
<rect x="490.5" y="642" width="25.5" height="14" fill="#fff"/>
<rect x="506.5" y="615" width="9.5" height="41" fill="#fff"/>
<text transform="translate(53,611.7) rotate(-90)" x="0" y="3.4" font-size="9.5" text-anchor="end" fill="#383838" font-family='"Liberation Sans", Arial, sans-serif' textLength="30.3" lengthAdjust="spacingAndGlyphs">Sunrise</text>
<text transform="translate(69.5,618.8) rotate(-90)" x="0" y="3.4" font-size="9.5" text-anchor="end" fill="#383838" font-family='"Liberation Sans", Arial, sans-serif' textLength="23.2" lengthAdjust="spacingAndGlyphs">06:53</text>
<text transform="translate(511,616) rotate(-90)" x="0" y="3.4" font-size="9.5" text-anchor="end" fill="#383838" font-family='"Liberation Sans", Arial, sans-serif' textLength="26.9" lengthAdjust="spacingAndGlyphs">Sunset</text>
<path d="M52.9,644.3 L52.9,649.1" stroke="#3767CF" stroke-width="2.3"/>
<polygon points="49.9,648.6 55.9,648.6 52.9,654.2" fill="#3767CF"/>
<path d="M69.6,644.3 L69.6,649.1" stroke="#3767CF" stroke-width="2.3"/>
<polygon points="66.6,648.6 72.6,648.6 69.6,654.2" fill="#3767CF"/>
<path d="M495.4,644.3 L495.4,649.1" stroke="#3767CF" stroke-width="2.3"/>
<polygon points="492.4,648.6 498.4,648.6 495.4,654.2" fill="#3767CF"/>
<path d="M511.3,644.3 L511.3,649.1" stroke="#3767CF" stroke-width="2.3"/>
<polygon points="508.3,648.6 514.3,648.6 511.3,654.2" fill="#3767CF"/>
<text x="272" y="701.2" font-size="14.5" text-anchor="middle" fill="#000" style="stroke:none" font-family='"Liberation Serif", "Times New Roman", serif'>(<tspan font-weight="bold">b</tspan>)</text>
</svg></body></html>
